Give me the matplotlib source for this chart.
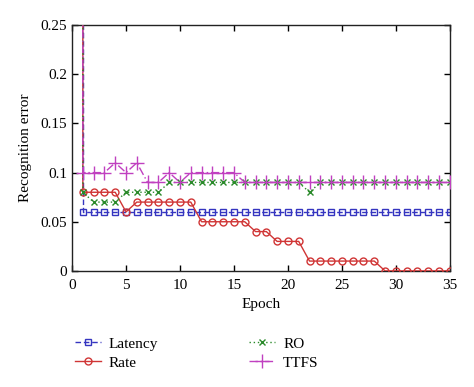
import matplotlib
matplotlib.use("Agg")
import matplotlib.pyplot as plt

plt.rcParams['font.family'] = ['Liberation Serif', 'DejaVu Serif']

# x positions: initial value plotted at epoch 1, then epochs 1..35
epochs = [1] + list(range(1, 36))

latency = [0.5] + [0.06] * 35
rate = [0.5, 0.08, 0.08, 0.08, 0.08, 0.06, 0.07, 0.07, 0.07, 0.07, 0.07, 0.07,
        0.05, 0.05, 0.05, 0.05, 0.05, 0.04, 0.04, 0.03, 0.03, 0.03,
        0.01, 0.01, 0.01, 0.01, 0.01, 0.01, 0.01, 0, 0, 0, 0, 0, 0, 0]
ro = [0.5, 0.08, 0.07, 0.07, 0.07, 0.08, 0.08, 0.08, 0.08, 0.09, 0.09,
      0.09, 0.09, 0.09, 0.09, 0.09, 0.09, 0.09, 0.09, 0.09, 0.09, 0.09,
      0.08, 0.09, 0.09, 0.09, 0.09, 0.09, 0.09, 0.09, 0.09, 0.09, 0.09, 0.09, 0.09, 0.09]
ttfs = [0.5, 0.10, 0.10, 0.10, 0.11, 0.10, 0.11, 0.09, 0.09, 0.10, 0.09,
        0.10, 0.10, 0.10, 0.10, 0.10, 0.09, 0.09, 0.09, 0.09, 0.09, 0.09,
        0.09, 0.09, 0.09, 0.09, 0.09, 0.09, 0.09, 0.09, 0.09, 0.09, 0.09, 0.09, 0.09, 0.09]

xticks = [0, 5, 10, 15, 20, 25, 30, 35]
yticks = [0, 0.05, 0.1, 0.15, 0.2, 0.25]
ytick_labels = ['0', '0.05', '0.1', '0.15', '0.2', '0.25']

fig = plt.figure(figsize=(4.74, 3.87), dpi=100)
ax = fig.add_axes([0.152, 0.300, 0.797, 0.635])

blue = '#3535c0'
red = '#d03535'
green = '#2a8a2a'
magenta = '#c040c0'

l1, = ax.plot(epochs, latency, color=blue, ls=(0, (4, 2)), lw=1.0, marker='s', ms=4.5,
              mfc='none', mec=blue, mew=1.0, label='Latency', zorder=2)
l2, = ax.plot(epochs, rate, color=red, ls='-', lw=1.0, marker='o', ms=5,
              mfc='none', mec=red, mew=1.0, label='Rate', zorder=3)
l3, = ax.plot(epochs, ro, color=green, ls=(0, (1, 2)), lw=1.0, marker='x', ms=5,
              mec=green, mew=1.0, label='RO', zorder=4)
l4, = ax.plot(epochs, ttfs, color=magenta, ls=(0, (6, 2, 1, 2)), lw=1.0, marker='+', ms=10,
              mec=magenta, mew=1.0, label='TTFS', zorder=5)

ax.set_xlim(0, 35)
ax.set_ylim(0, 0.25)
ax.set_xticks(xticks)
ax.set_yticks(yticks)
ax.set_yticklabels(ytick_labels)
ax.tick_params(direction='in', top=True, right=True, labelsize=11, length=4, width=1.0)
ax.tick_params(axis='x', pad=6)
for s in ax.spines.values():
    s.set_linewidth(1.0)
    s.set_color('#222222')
ax.set_xlabel('Epoch', fontsize=11, labelpad=4)
ax.set_ylabel('Recognition error', fontsize=11, labelpad=6)

fig.legend(handles=[l1, l2, l3, l4], ncol=2, frameon=False, fontsize=11,
           loc='upper left', bbox_to_anchor=(0.145, 0.145), columnspacing=6.0,
           handlelength=1.7, handletextpad=0.5, labelspacing=0.35, borderaxespad=0)

fig.savefig('out.png', dpi=100)
